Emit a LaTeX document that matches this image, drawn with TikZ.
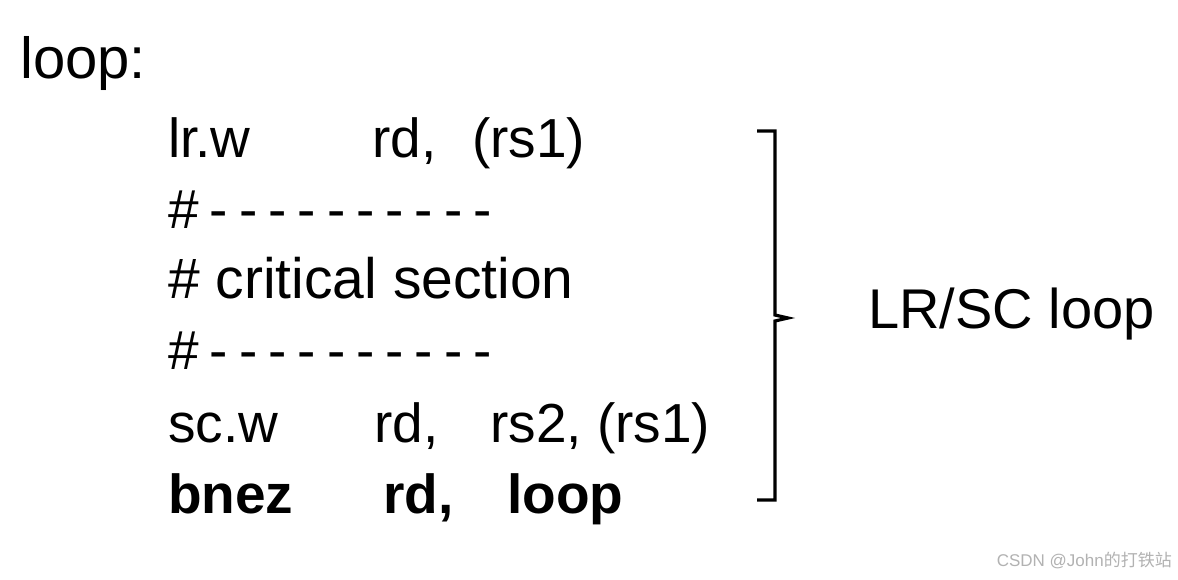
\documentclass[tikz,border=0pt]{standalone}
\usepackage{fontspec}
\setmainfont{Liberation Sans}
\newfontfamily\cjk{Noto Sans CJK SC}
\newcommand{\dashrow}{\#\foreach \k in {1,...,10}{\hspace{11pt}-}}
\begin{document}
\begin{tikzpicture}[x=1pt,y=-1pt,
  code/.style={anchor=base west,inner sep=0pt,font=\fontsize{55}{60}\selectfont},
  bcode/.style={code,font=\fontsize{55}{60}\selectfont\bfseries}]
\useasboundingbox[fill=white] (0,0) rectangle (1178,579);
\node[code,font=\fontsize{58}{60}\selectfont] (loop) at (20,78) {loop:};
\node[code] (a1) at (168,157) {lr.w};
\node[code] (a2) at (372,157) {rd,};
\node[code] (a3) at (472,157) {(rs1)};
\node[code] (b1) at (168,228) {\dashrow};
\node[code,font=\fontsize{57}{60}\selectfont] (c1) at (168,298) {\# critical section};
\node[code] (d1) at (168,369) {\dashrow};
\node[code] (e1) at (168,442) {sc.w};
\node[code] (e2) at (374,442) {rd,};
\node[code] (e3) at (490,442) {rs2,};
\node[code] (e4) at (597,442) {(rs1)};
\node[bcode] (f1) at (168,513) {bnez};
\node[bcode] (f2) at (383,513) {rd,};
\node[bcode] (f3) at (507,513) {loop};
\node[code,font=\fontsize{56}{60}\selectfont] (lbl) at (868,328) {LR/SC loop};
\draw[line width=3.2pt] (757,131) -- (775,131) -- (775,315) -- (788,318) -- (775,321) -- (775,500) -- (757,500);
\node[anchor=base east,inner sep=0pt,text=black!30,font=\fontsize{17}{20}\selectfont] (wm) at (1172,566) {CSDN @John{\cjk 的打铁站}};
\end{tikzpicture}
\end{document}
